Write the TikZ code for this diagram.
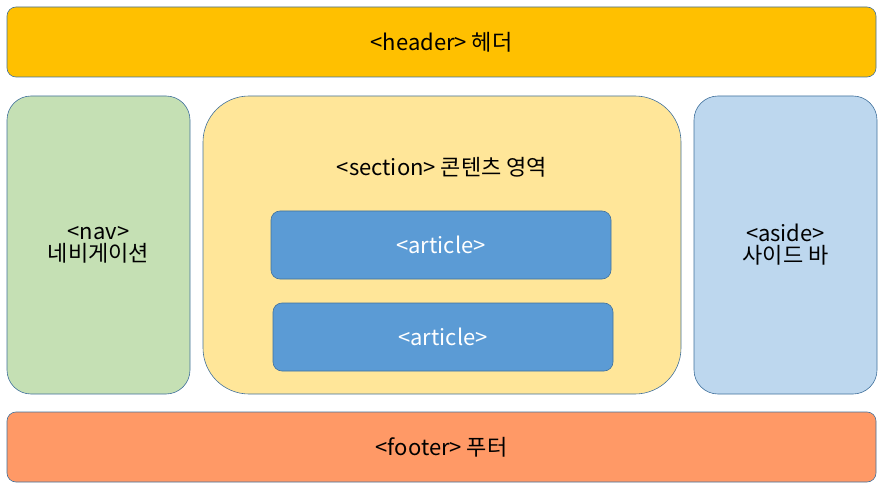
\documentclass[tikz,border=0pt]{standalone}
\usepackage{fontspec}
\setmainfont{Noto Sans CJK KR}
\begin{document}
\begin{tikzpicture}[x=1pt,y=-1pt,
  box/.style={draw=black!55!blue!60!white, line width=0.6pt, font=\fontsize{22}{26}\selectfont, align=center},
]
\definecolor{hdr}{HTML}{FFC000}
\definecolor{navc}{HTML}{C5E0B4}
\definecolor{secc}{HTML}{FFE699}
\definecolor{asc}{HTML}{BDD7EE}
\definecolor{artc}{HTML}{5B9BD5}
\definecolor{ftc}{HTML}{FF9966}
\definecolor{edge}{HTML}{41719C}
\useasboundingbox (0,0) rectangle (883,489);
\tikzset{box/.append style={draw=edge}}
\draw[box,fill=hdr,rounded corners=9] (7,7) rectangle (876,77);
\node[box,draw=none] (header) at (441.5,42) {<header> 헤더};
\draw[box,fill=navc,rounded corners=24] (7,96) rectangle (190,394);
\node[box,draw=none] (nav) at (98.5,245) {<nav>\\[-4pt]네비게이션};
\draw[box,fill=secc,rounded corners=46] (203,96) rectangle (681,394);
\node[box,draw=none] (section) at (442,167) {<section> 콘텐츠 영역};
\draw[box,fill=asc,rounded corners=24] (694,96) rectangle (877,394);
\node[box,draw=none] (aside) at (785.5,245) {<aside>\\[-4pt]사이드 바};
\draw[box,fill=artc,rounded corners=9] (271,211) rectangle (611,279);
\node[box,draw=none,text=white] (a1) at (441,245) {<article>};
\draw[box,fill=artc,rounded corners=9] (273,303) rectangle (613,371);
\node[box,draw=none,text=white] (a2) at (443,337) {<article>};
\draw[box,fill=ftc,rounded corners=9] (7,412) rectangle (876,482);
\node[box,draw=none] (footer) at (441.5,447) {<footer> 푸터};
\end{tikzpicture}
\end{document}
